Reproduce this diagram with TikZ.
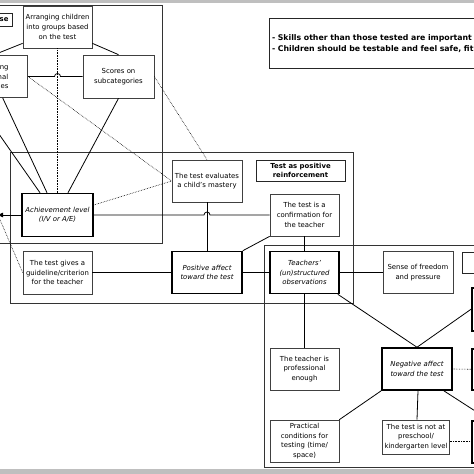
\documentclass[tikz,border=0pt]{standalone}
\usepackage{fontspec}
\setmainfont{DejaVu Sans}
\usetikzlibrary{arrows.meta}

\begin{document}
\begin{tikzpicture}[x=1pt,y=-1pt,
	every node/.style={font=\fontsize{6.9}{9.6}\selectfont},
	cell/.style={draw=black!75, fill=white, line width=0.7pt, align=center, inner sep=2pt, minimum width=70pt, minimum height=42pt},
	keycell/.style={cell, draw=black, line width=1.5pt, font=\fontsize{6.9}{9.6}\selectfont\itshape},
	tagcell/.style={cell, draw=black!85, line width=1pt, minimum height=21pt, font=\fontsize{6.9}{9.6}\selectfont\bfseries},
	group/.style={draw=black!80, line width=0.8pt},
	link/.style={draw=black, line width=0.8pt},
	hint/.style={draw=black, line width=0.6pt, densely dotted}]
	\useasboundingbox (0,0) rectangle (474,474);
	\clip (0,0) rectangle (474,474);
	\fill[black!25] (0,0) rectangle (474,2.5);
	\fill[black!25] (0,468.5) rectangle (474,474);

	% the three groups
	\draw[group] (-10,5) rectangle (162,243);
	\draw[group] (10,152) rectangle (353,303);
	\draw[group] (264,245) rectangle (490,467);

	% labels of the groups
	\node[tagcell, anchor=east, minimum width=0pt, minimum height=13pt, text width=50pt, align=right, inner xsep=4pt] (usetag) at (13,19.5) {se};
	\node[tagcell, minimum width=89pt] (reinforce) at (300.5,170.5) {Test as positive\\reinforcement};
	\node[tagcell, anchor=north west, minimum width=40pt] (negtag) at (462,252) {};
	\node[tagcell, anchor=north west, text width=260pt, align=left, minimum height=50pt, inner xsep=2.5pt, font=\fontsize{7.8}{11}\selectfont\bfseries] (note) at (269,18)
		{- Skills other than those tested are important\\- Children should be testable and feel safe, fit};

	% nodes
	\node[cell, minimum width=69pt] (arrange) at (57.5,27) {Arranging children\\into groups based\\on the test};
	\node[cell, anchor=east, minimum width=76pt] (compare) at (28,76.5) {Comparing\\to national\\and values};
	\node[cell, minimum width=71pt, minimum height=43pt] (scores) at (118.5,76.5) {Scores on\\subcategories};
	\node[cell] (evaluates) at (207,181) {The test evaluates\\a child's mastery};
	\node[keycell, minimum width=71pt, minimum height=43pt] (achieve) at (57.5,215) {Achievement level\\(I/V or A/E)};
	\node[cell, minimum width=69pt] (confirm) at (304.5,215) {The test is a\\confirmation for\\the teacher};
	\node[cell, minimum width=69pt, minimum height=43pt] (guide) at (57.5,272.5) {The test gives a\\guideline/criterion\\for the teacher};
	\node[keycell] (positive) at (207,272.5) {Positive affect\\toward the test};
	\node[keycell, minimum width=69pt] (observe) at (304.5,272.5) {Teachers'\\(un)structured\\observations};
	\node[cell] (freedom) at (418,272.5) {Sense of freedom\\and pressure};
	\node[keycell] (negative) at (417,369) {Negative affect\\toward the test};
	\node[cell, minimum width=69pt] (professional) at (304.5,369) {The teacher is\\professional\\enough};
	\node[cell, minimum width=69pt] (practical) at (304.5,441) {Practical\\conditions for\\testing (time/\\space)};
	\node[cell, minimum width=66pt, minimum height=34pt] (preschool) at (416,437) {The test is not at\\preschool/\\kindergarten level};
	\node[keycell, anchor=north west, minimum width=30pt, minimum height=43pt] (sideA) at (471,287) {};
	\node[keycell, anchor=north west, minimum width=30pt, minimum height=41pt] (sideB) at (471,348) {};
	\node[keycell, anchor=north west, minimum width=30pt, minimum height=42pt] (sideC) at (471,420) {};
	\coordinate (farleft) at (-20,107);
	\coordinate (leftout) at (-2,215);
	\coordinate (farright) at (500,427);

	% connectors
	\draw[link] ([yshift=5pt]arrange.south west) -- ([xshift=3.5pt]compare.north);
	\draw[link] ([yshift=5pt]arrange.south east) -- (scores.north);
	\draw[link] (compare.east) -- (54.5,76.5) arc[start angle=180, end angle=0, radius=3pt] -- (scores.west);
	\draw[hint] (arrange.south) -- (achieve.north);
	\draw[hint] (compare.east) -- (evaluates.west);
	\draw[hint] (scores.east) -- (evaluates.north);
	\draw[hint] ([yshift=10pt]achieve.east) -- (evaluates.west);
	\draw[link] (farleft) -- ([xshift=-17.5pt]achieve.north);
	\draw[link] ([xshift=13pt]compare.south) -- ([xshift=-10.5pt]achieve.north);
	\draw[link] (scores.south) -- ([xshift=10.5pt]achieve.north);
	\draw[link, -{Triangle[length=5pt, width=4.5pt]}] (achieve.west) -- (leftout);
	\draw[hint] (guide.west) -- (leftout);
	\draw[link] (achieve.east) -- (204,215) arc[start angle=180, end angle=0, radius=3pt] -- (confirm.west);
	\draw[link] (positive.north) -- (evaluates.south);
	\draw[link] (guide.east) -- (positive.west);
	\draw[link] (positive.east) -- (observe.west);
	\draw[link] (confirm.south) -- (observe.north);
	\draw[link] (confirm.south west) -- (positive.north east);
	\draw[link] (observe.east) -- (freedom.west);
	\draw[link] ([xshift=-2pt]observe.south east) -- (negative.north);
	\draw[link] (negative.north) -- (sideA.west);
	\draw[hint] (negative.east) -- (sideB.west);
	\draw[link] ([xshift=-9pt]negative.south east) -- (farright);
	\draw[link] (observe.south) -- (professional.north);
	\draw[link] ([xshift=1pt]negative.south) -- ([xshift=1pt]preschool.north);
	\draw[link] (practical.north east) -- (negative.south west);
	\draw[hint] (preschool.east |- sideC.west) -- (sideC.west);
\end{tikzpicture}
\end{document}
